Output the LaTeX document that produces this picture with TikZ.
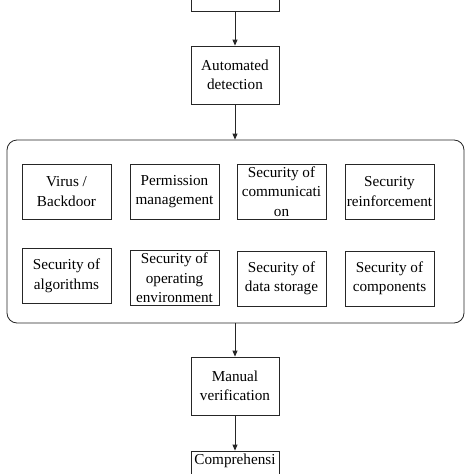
\documentclass[tikz,border=0pt]{standalone}
\usepackage{fontspec}
\setmainfont{Liberation Serif}
\usetikzlibrary{arrows.meta}
\begin{document}
\begin{tikzpicture}[x=1pt,y=-1pt,
  line/.style={draw=black!85,line width=0.8pt},
  box/.style={line,rectangle,minimum width=88pt,inner sep=0pt,align=center,
    font=\fontsize{15.2}{19.5}\selectfont},
  bigbox/.style={box,minimum height=58pt},
  smallbox/.style={box,minimum width=89pt,minimum height=55pt},
  arr/.style={line,-{Triangle[length=6pt,width=5pt]}}]
\clip (0,0) rectangle (474,474);
\useasboundingbox (0,0) rectangle (474,474);
\node[bigbox] (top) at (235,-18) {};
\node[bigbox] (auto) at (235,75) {Automated\\detection};
\node[line,rounded corners=10pt,minimum width=457pt,minimum height=183pt,inner sep=0pt] (cont) at (235.5,231.5) {};
\node[smallbox] (b1) at (66.5,191.5) {Virus /\\Backdoor};
\node[smallbox] (b2) at (174.5,191.5) {Permission\\management};
\node[smallbox] (b3) at (281.5,191.5) {Security of\\communicati\\on};
\node[smallbox] (b4) at (389.5,191.5) {Security\\reinforcement};
\node[smallbox] (b5) at (66.5,276) {Security of\\algorithms};
\node[smallbox] (b6) at (174.5,278) {Security of\\operating\\environment};
\node[smallbox] (b7) at (281.5,278.5) {Security of\\data storage};
\node[smallbox] (b8) at (389.5,278.5) {Security of\\components};
\node[bigbox] (man) at (235,386) {Manual\\verification};
\node[bigbox] (comp) at (235,480) {};
\node[font=\fontsize{15.2}{19.5}\selectfont,inner sep=0pt] (comptxt) at (235,461) {Comprehensi};
\draw[arr] (top) -- (auto);
\draw[arr] (auto) -- (auto |- cont.north);
\draw[arr] (auto |- cont.south) -- (man);
\draw[arr] (man) -- (comp);
\end{tikzpicture}
\end{document}
